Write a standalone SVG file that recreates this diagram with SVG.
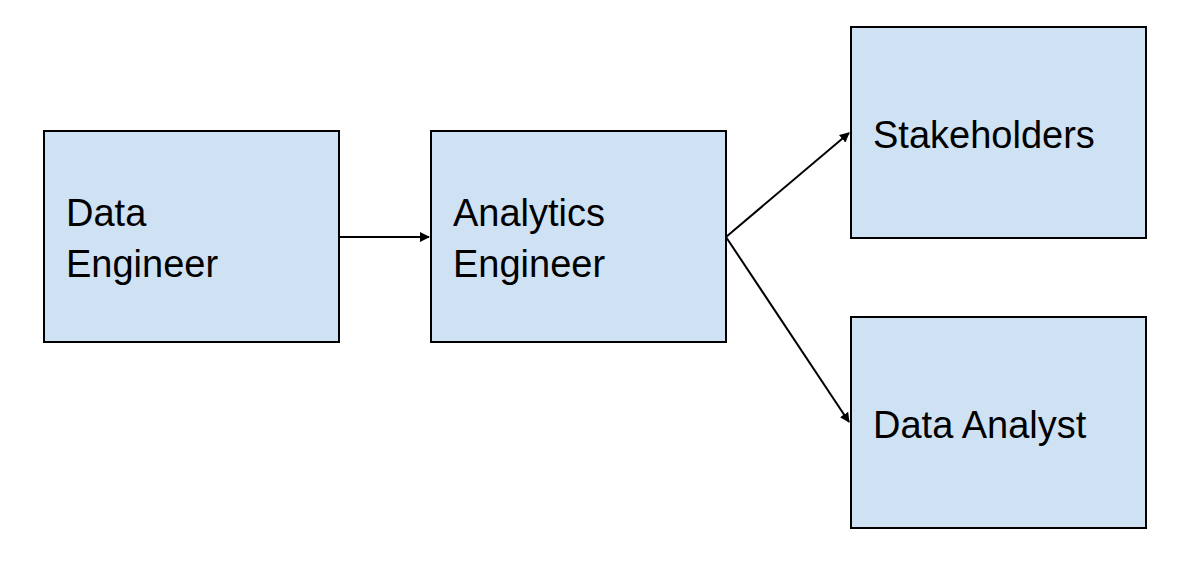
<svg xmlns="http://www.w3.org/2000/svg" width="1200" height="569" viewBox="0 0 1200 569">
<style>
.box{fill:#cfe2f3;stroke:#000;stroke-width:2}
.t{font-family:"Liberation Sans",Arial,sans-serif;font-size:38px;fill:#000}
.c{stroke:#000;stroke-width:2;fill:none;marker-end:url(#a)}
</style>
<defs><marker id="a" markerWidth="10" markerHeight="10" refX="9" refY="5" orient="auto" markerUnits="userSpaceOnUse" viewBox="0 0 10 10"><path d="M0,0 L10,5 L0,10 z" fill="#000"/></marker></defs>
<rect width="1200" height="569" fill="#fff"/>
<g id="data-engineer"><rect class="box" x="44" y="131" width="295" height="211"/><text class="t" x="66" y="226">Data</text><text class="t" x="66" y="277">Engineer</text></g>
<g id="analytics-engineer"><rect class="box" x="431" y="131" width="295" height="211"/><text class="t" x="453" y="226">Analytics</text><text class="t" x="453" y="277">Engineer</text></g>
<g id="stakeholders"><rect class="box" x="851" y="27" width="295" height="211"/><text class="t" x="873" y="148">Stakeholders</text></g>
<g id="data-analyst"><rect class="box" x="851" y="317" width="295" height="211"/><text class="t" x="873" y="438">Data Analyst</text></g>
<g id="connectors">
<line class="c" x1="339" y1="237" x2="429" y2="237"/>
<line class="c" x1="726" y1="237" x2="849" y2="133"/>
<line class="c" x1="726" y1="237" x2="849" y2="422"/>
</g>
</svg>
